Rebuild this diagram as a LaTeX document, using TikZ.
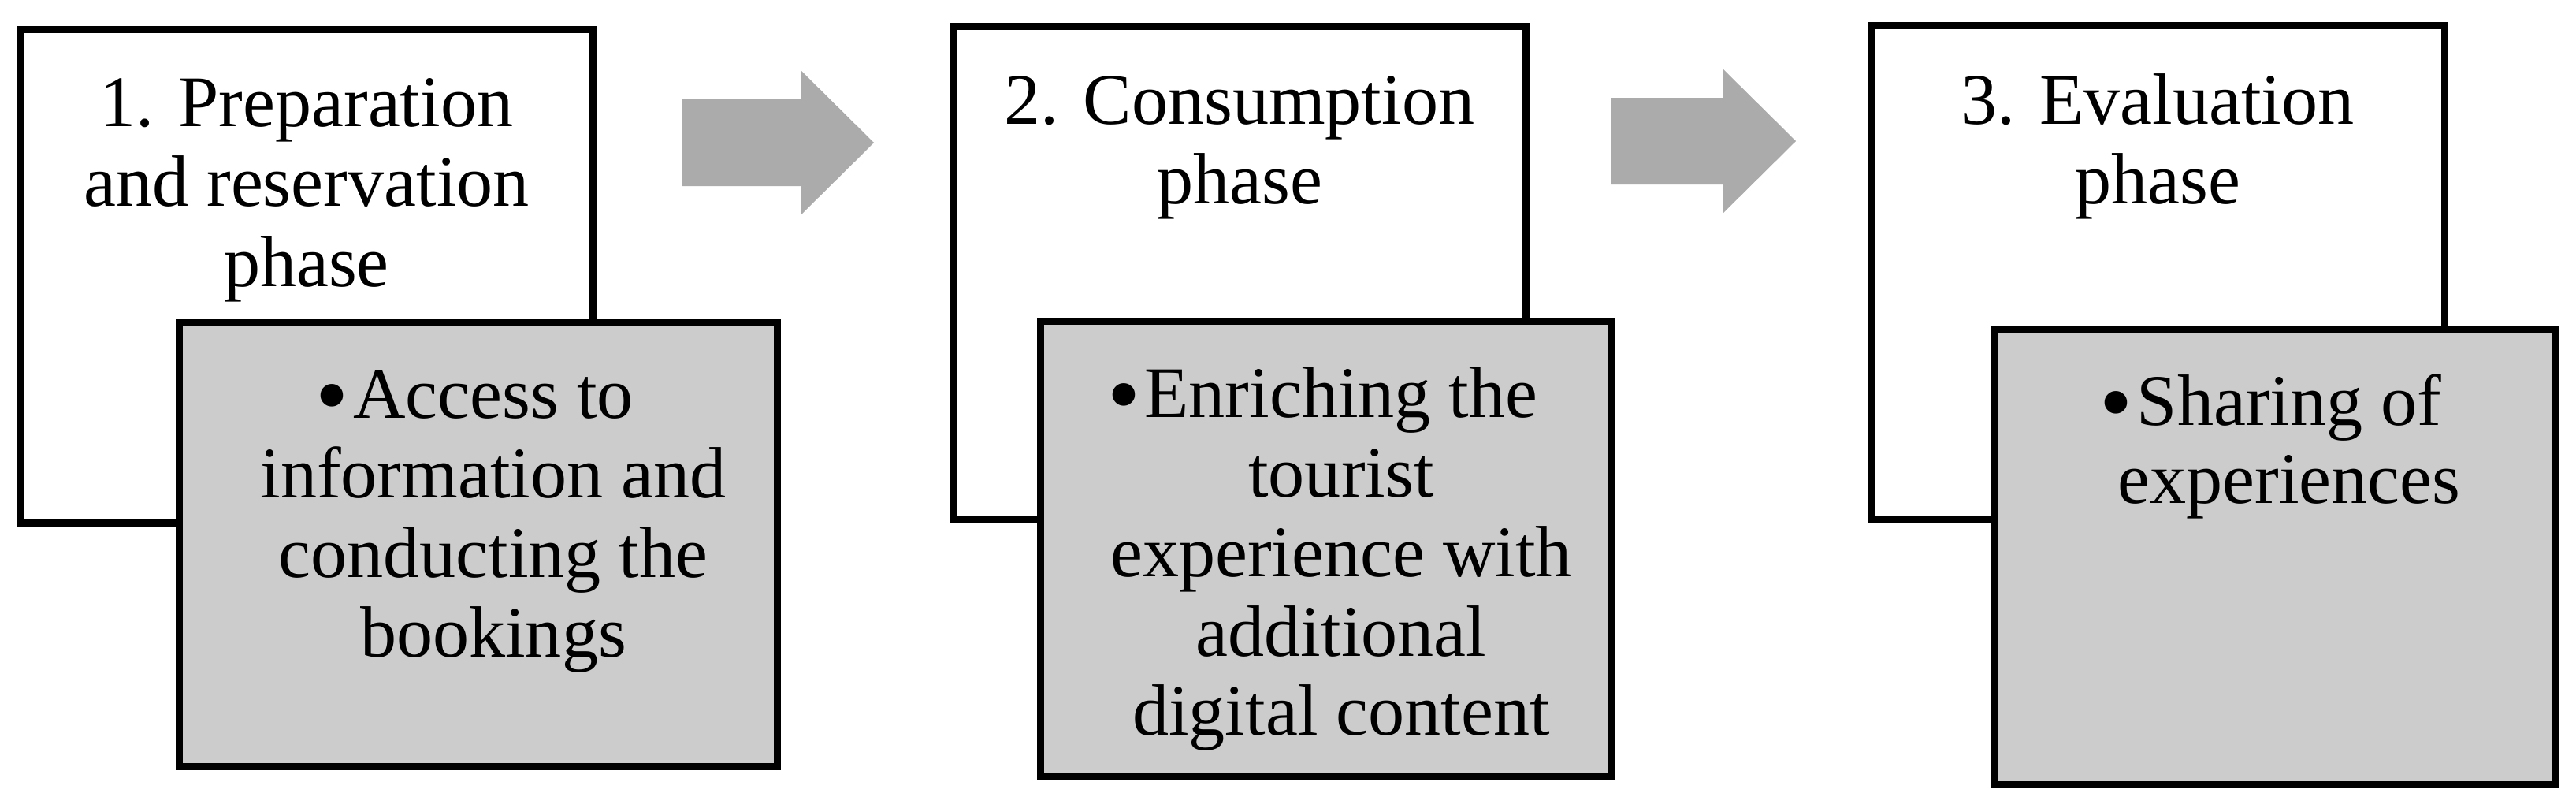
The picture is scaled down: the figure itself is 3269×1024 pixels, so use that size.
\documentclass[tikz,border=0pt]{standalone}
\usepackage{fontspec}
\usepackage{graphicx}
\setmainfont{Liberation Serif}
\definecolor{boxgray}{HTML}{CCCCCC}
\definecolor{arrowgray}{HTML}{ABABAB}
\newcommand{\itembullet}{\llap{\raisebox{-0.12em}{\scalebox{1.3}{\textbullet}}\hspace{0.06em}}}
\tikzset{
  phasebox/.style={draw=black, fill=white, line width=0.09cm, inner sep=0pt, outer sep=0pt},
  itembox/.style={draw=black, fill=boxgray, line width=0.09cm, inner sep=0pt, outer sep=0pt},
  lbl/.style={anchor=base, inner sep=0pt, outer sep=0pt, font=\fontsize{26.2}{31}\selectfont},
  blockarrow/.style={fill=arrowgray, draw=none}
}
\begin{document}
\begin{tikzpicture}[x=0.01cm, y=-0.01cm]
\useasboundingbox (0,0) rectangle (3269,1024);
% phase boxes
\node[phasebox, minimum width=7.265cm, minimum height=6.255cm] (w1) at (388.75,350.25) {};
\node[phasebox, minimum width=7.265cm, minimum height=6.24cm] (w2) at (1572.75,346) {};
\node[phasebox, minimum width=7.27cm, minimum height=6.25cm] (w3) at (2738.5,345.5) {};
% item boxes
\node[itembox, minimum width=7.59cm, minimum height=5.625cm] (g1) at (607,690.75) {};
\node[itembox, minimum width=7.23cm, minimum height=5.76cm] (g2) at (1682.5,696) {};
\node[itembox, minimum width=7.11cm, minimum height=5.775cm] (g3) at (2887.5,706.75) {};
% arrows
\coordinate (a1) at (866,181);
\coordinate (a2) at (2045,179);
\fill[blockarrow] (a1) ++(0,-55) -- ++(151,0) -- ++(0,-36) -- ++(92,91) -- ++(-92,91) -- ++(0,-36) -- ++(-151,0) -- cycle;
\fill[blockarrow] (a2) ++(0,-55) -- ++(142,0) -- ++(0,-36) -- ++(92,91) -- ++(-92,91) -- ++(0,-36) -- ++(-142,0) -- cycle;
% phase titles
\node[lbl] (t1a) at (389,160) {1. Preparation};
\node[lbl] (t1b) at (389,261) {and reservation};
\node[lbl] (t1c) at (389,363) {phase};
\node[lbl] (t2a) at (1573,157) {2. Consumption};
\node[lbl] (t2b) at (1573,258) {phase};
\node[lbl] (t3a) at (2738,157) {3. Evaluation};
\node[lbl] (t3b) at (2738,258) {phase};
% items
\node[lbl] (i1a) at (626,530) {\itembullet Access to};
\node[lbl] (i1b) at (626,631) {information and};
\node[lbl] (i1c) at (626,732) {conducting the};
\node[lbl] (i1d) at (626,833) {bookings};
\node[lbl] (i2a) at (1702,529) {\itembullet Enriching the};
\node[lbl] (i2b) at (1702,630) {tourist};
\node[lbl] (i2c) at (1702,731) {experience with};
\node[lbl] (i2d) at (1702,832) {additional};
\node[lbl] (i2e) at (1702,932) {digital content};
\node[lbl] (i3a) at (2905,539) {\itembullet Sharing of};
\node[lbl] (i3b) at (2905,638) {experiences};
\end{tikzpicture}
\end{document}
